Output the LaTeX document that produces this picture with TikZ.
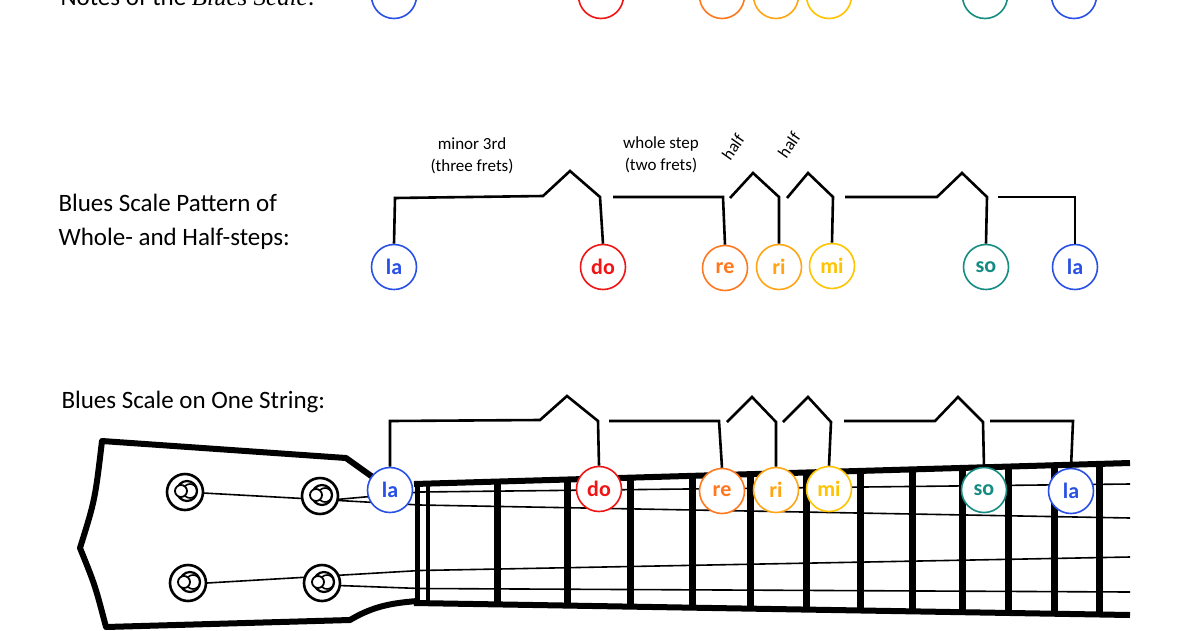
\documentclass[tikz,border=0pt]{standalone}
\usepackage{fontspec}
\setmainfont{Carlito}
\newfontfamily\serifit{Liberation Serif}
\definecolor{cla}{RGB}{40,80,230}
\definecolor{cdo}{RGB}{240,20,20}
\definecolor{cre}{RGB}{255,120,30}
\definecolor{cri}{RGB}{255,165,20}
\definecolor{cmi}{RGB}{255,195,0}
\definecolor{cso}{RGB}{20,140,130}
\begin{document}
\begin{tikzpicture}[x=1pt,y=-1pt,
  note/.style={circle,draw=#1,text=#1,line width=1.6pt,minimum size=45pt,inner sep=0pt,fill=white,font=\fontsize{22}{24}\selectfont\bfseries},
  lbl/.style={font=\fontsize{25}{34}\selectfont,align=left,anchor=west},
  small/.style={font=\fontsize{17}{22}\selectfont,align=center},
  brk/.style={line width=2.6pt,line cap=butt,line join=miter},
  edge/.style={line width=6pt},
  fret/.style={line width=7pt},
  str/.style={line width=1.6pt}]
\useasboundingbox (0,0) rectangle (1200,630);
% top row
\node[anchor=base west,font=\fontsize{25}{28}\selectfont] (t0) at (57,5) {Notes of the {\serifit\itshape Blues Scale}:};
\foreach \x/\c [count=\i] in {394/cla,601/cdo,722/cre,776/cri,829/cmi,985/cso,1074/cla}
  \node[note=\c] (tn\i) at (\x,-4) {};
% middle row
\node[lbl] (mt) at (55,222) {Blues Scale Pattern of\\Whole- and Half-steps:};
\node[note=cla] (m1) at (394,267) {la};
\node[note=cdo] (m2) at (603,267) {do};
\node[note=cre] (m3) at (725,268) {re};
\node[note=cri] (m4) at (779,267) {ri};
\node[note=cmi] (m5) at (832,266) {mi};
\node[note=cso] (m6) at (986,267) {so};
\node[note=cla] (m7) at (1075,267) {la};
\draw[brk] (m1.north) -- (395,198) -- (543,196) -- (570,171) -- (600,197) -- (m2.north);
\draw[brk] (613,197) -- (723,197) -- (m3.north);
\draw[brk] (730,198) -- (753,173) -- (779,197) -- (m4.north);
\draw[brk] (787,198) -- (808,173) -- (833,197) -- (m5.north);
\draw[brk] (845,197) -- (937,197) -- (962,173) -- (987,197) -- (m6.north);
\draw[brk] (998,197) -- (1075,197) -- (m7.north);
\node[small] (l1) at (472,156) {minor 3rd\\(three frets)};
\node[small] (l2) at (661,155) {whole step\\(two frets)};
\node[small,rotate=55] (l3) at (733,147) {half};
\node[small,rotate=55] (l4) at (789,145) {half};
% bottom
\node[lbl] (bt) at (58,402) {Blues Scale on One String:};
% headstock
\draw[edge,line join=round] (374,478) -- (346,458) -- (102,441) .. controls (95,500) .. (80,548) .. controls (95,585) .. (106,627) -- (350,620) .. controls (375,605) and (395,603) .. (417,601);
% strings
\foreach \a/\b/\c/\d in {331/500/1130/484, 185/492/1130/518, 190/584/1130/557, 325/585/1130/592}
  \draw[str] (\a,\b) -- (420,{(\b+\d)/2}) -- (\c,\d);
% tuners
\foreach \x/\y [count=\i] in {185/492,320/496,188/583,322/583}{
  \draw[line width=2.6pt,fill=white] (\x,\y) circle (18);
  \draw[line width=2.2pt,fill=white] (\x+2,\y-1) circle (10);
  \draw[line width=1.6pt] (\x+5,\y-1) circle (7);
  \draw[line width=1.8pt,fill=white] (\x-4,\y-1) circle (6);
}
% fretboard
\draw[edge] (414,484) -- (1130,463);
\draw[edge] (414,603) -- (1130,615);
\draw[line width=5pt] (417,484) -- (417,603);
\draw[line width=4pt] (428,484) -- (428,603);
\foreach \x in {497,567,630,692,750,806,860,912,962,1008,1054,1099}
  \draw[fret] (\x,{484-21*(\x-414)/716}) -- (\x,{603+12*(\x-414)/716});
% bottom notes
\node[note=cla] (b1) at (390,490) {la};
\node[note=cdo] (b2) at (599,489) {do};
\node[note=cre] (b3) at (722,491) {re};
\node[note=cri] (b4) at (776,490) {ri};
\node[note=cmi] (b5) at (829,489) {mi};
\node[note=cso] (b6) at (984,490) {so};
\node[note=cla] (b7) at (1071,491) {la};
\draw[brk] (b1.north) -- (390,421) -- (540,420) -- (567,396) -- (598,421) -- (b2.north);
\draw[brk] (609,421) -- (719,421) -- (b3.north);
\draw[brk] (727,422) -- (752,397) -- (776,422) -- (b4.north);
\draw[brk] (783,422) -- (808,397) -- (831,422) -- (b5.north);
\draw[brk] (844,421) -- (935,421) -- (958,397) -- (983,422) -- (b6.north);
\draw[brk] (990,421) -- (1073,421) -- (b7.north);
\end{tikzpicture}
\end{document}
